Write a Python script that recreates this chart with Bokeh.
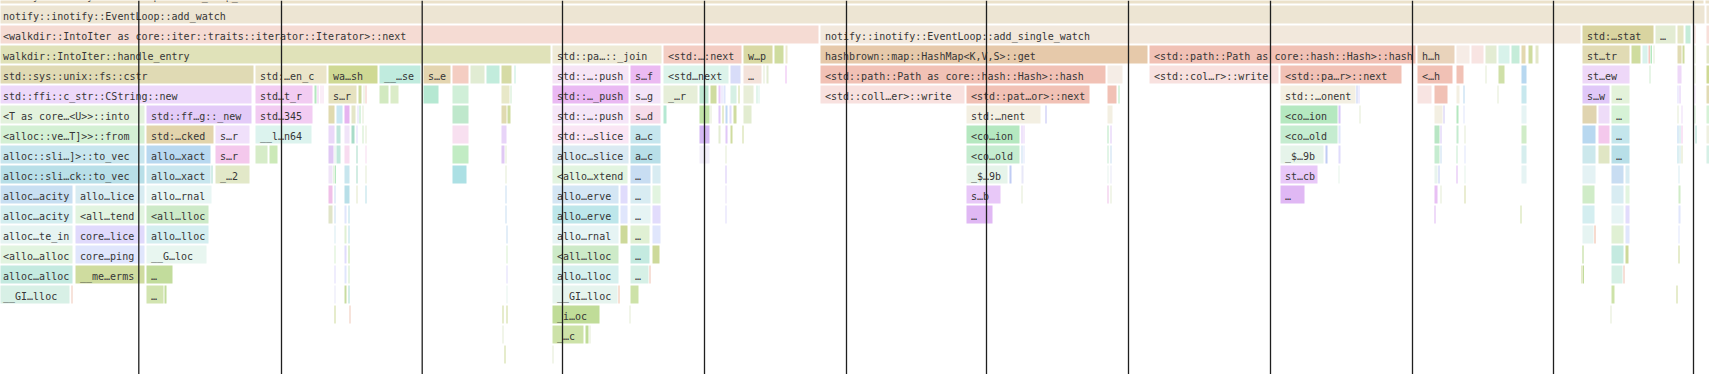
from bokeh.plotting import figure
from bokeh.models import Range1d, ColumnDataSource
from bokeh.core.properties import value
from bokeh.embed import file_html
from bokeh.resources import INLINE

# ---------------- data: flame graph frames, in samples (view spans 0..1709) ----------------
TOTAL_SAMPLES = 1709

ROW_00 = [(-2, 1703, "notify::inotify::EventLoop::event_loop_thread"), (1705, 1709, "")]
FILL_00 = ["#ebe1ca", "#ebe1ca"]

ROW_01 = [(-2, 1704, "notify::inotify::EventLoop::add_watch"), (1706, 1709, "")]
FILL_01 = ["#ede5d3", "#efe6d6"]

ROW_02 = [(-2, 818, "<walkdir::IntoIter as core::iter::traits::iterator::Iterator>::next"),
          (820, 1580, "notify::inotify::EventLoop::add_single_watch"),
          (1582, 1653, "std:…stat"), (1655, 1675, "…"), (1677, 1683, ""), (1685, 1690, ""),
          (1694, 1695, ""), (1706, 1709, "")]
FILL_02 = ["#f5dbd3", "#f2e8dc", "#d9d4a0", "#e3ecd3", "#e6e6c4", "#c5ecd9", "#f6d8d0", "#f8e0da"]

ROW_03 = [(-2, 550, "walkdir::IntoIter::handle_entry"), (552, 661, "std::pa…::_join"),
          (663, 741, "<std:…:next"), (743, 772, "w…p"), (774, 783, ""), (785, 787, ""),
          (820, 1147, "hashbrown::map::HashMap<K,V,S>::get"),
          (1149, 1415, "<std::path::Path as core::hash::Hash>::hash"),
          (1417, 1454, "h…h"), (1456, 1469, ""), (1471, 1483, ""), (1485, 1496, ""),
          (1498, 1509, ""), (1511, 1519, ""), (1521, 1525, ""), (1528, 1532, ""), (1535, 1538, ""),
          (1582, 1629, "st…tr"), (1631, 1640, ""), (1642, 1647, ""), (1648, 1649.5, ""),
          (1650, 1651.5, ""), (1653, 1654, ""), (1677, 1681, ""), (1682, 1684, ""),
          (1694, 1695, ""), (1706, 1709, "")]
FILL_03 = ["#e0e2b9", "#eeead6", "#f3cdc3", "#d9d9a4", "#cfdc9f", "#ece9cf",
           "#e6c9aa", "#f1c1b5", "#e9d3bb", "#f6ece6", "#f8e4e2", "#e3ecd3",
           "#d8f2ea", "#c5ecd9", "#e3d8b0", "#cfdc9f", "#e3e7c7",
           "#e1dbb4", "#cfdc9f", "#d8f2ec", "#f4c8c0", "#b5e8c0", "#e3ecd3",
           "#e1dbb4", "#cfdc9f", "#e3ecd3", "#e3e7c7"]

ROW_04 = [(-2, 253, "std::sys::unix::fs::cstr"), (255, 326, "std:…en_c"), (328, 377, "wa…sh"),
          (379, 420, "__…se"), (423, 450, "s…e"), (452, 468, ""), (470, 484, ""), (486, 499, ""),
          (501, 511, ""), (514, 515, ""), (552, 628, "std::…:push"), (630, 660, "s…f"),
          (663, 728, "<std…next"), (730, 740, ""), (743, 761, "…"), (763, 764, ""), (766, 768, ""),
          (785, 786, ""), (820, 1105, "<std::path::Path as core::hash::Hash>::hash"),
          (1107, 1122, ""), (1149, 1278, "<std::col…r>::write"), (1280, 1401, "<std::pa…r>::next"),
          (1417, 1452, "<…h"), (1456, 1463, ""), (1485, 1486, ""), (1498, 1504, ""), (1521, 1526, ""),
          (1582, 1629, "st…ew"), (1649, 1650, ""), (1677, 1681, ""), (1694, 1695, ""), (1706, 1709, "")]
FILL_04 = ["#e0dab4", "#ebe5c9", "#cfd994", "#c0ebde", "#e4d5b0", "#f4cdc2", "#e1ecd3", "#c2ecdc",
           "#d6dba5", "#c2ecdc", "#f6e5f6", "#ebbaf2", "#dcf3ea", "#d8dcf8", "#f3e2da", "#e3ecd3",
           "#e3ecd3", "#ebbaf2", "#f1c1b5", "#f5ede6", "#f8e1df", "#f1c1b5", "#f1c1b5", "#f1c1b5",
           "#e3ecd3", "#cfe0a8", "#b8d8f0", "#eed8f8", "#d0ecd0", "#eed8f8", "#e3ecd3", "#cfd994"]

ROW_05 = [(-2, 251, "std::ffi::c_str::CString::new"), (255, 312, "std…t_r"), (314, 316, ""),
          (317, 318, ""), (320, 321, ""), (322, 323, ""), (328, 356, "s…r"), (358, 361, ""),
          (363, 364, ""), (365, 366, ""), (379, 388, ""), (390, 398, ""), (423, 438, ""),
          (452, 468, ""), (501, 509, ""), (510, 511, ""), (552, 628, "std::…_push"), (630, 660, "s…g"),
          (663, 697, "_…r"), (699, 708, ""), (710, 716, ""), (718, 720, ""), (721, 722, ""),
          (723, 725, ""), (730, 736, ""), (738, 739, ""), (743, 753, ""), (756, 757, ""), (758, 759, ""),
          (820, 964, "<std::coll…er>::write"), (966, 1089, "<std::pat…or>::next"),
          (1107, 1116, ""), (1118, 1119, ""), (1280, 1355, "std::…onent"), (1356, 1357, ""),
          (1358, 1359, ""), (1417, 1431, ""), (1434, 1447, ""), (1456, 1459, ""), (1463, 1464, ""),
          (1497, 1498, ""), (1521, 1526, ""), (1582, 1609, "s…w"), (1611, 1629, "…"),
          (1677, 1678, ""), (1679, 1680, ""), (1694, 1695, ""), (1706, 1709, "")]
FILL_05 = ["#edd9fa", "#f2ccf2", "#b5e8c0", "#f2ccf2", "#f6dcf0", "#f6dcf0", "#e6e2c0", "#cfdc9f",
           "#e3ecd3", "#f4c8c0", "#d2e9c0", "#dbecc8", "#b5e8d2", "#d0efd8", "#e8e8c8", "#d0ecd0",
           "#eab9f3", "#f3e4f7", "#e6eed8", "#bfe8d3", "#cfdca0", "#e8c8f8", "#e0dcfc", "#e0e6fc",
           "#d6f0e4", "#cfdca0", "#e8eed8", "#c5ecd9", "#d8f2ea",
           "#f8e1df", "#f1c1b5", "#f1c1b5", "#b5e8c0", "#f3efe2", "#c0ccf4", "#e0dcfc",
           "#f8e4e2", "#f1c1b5", "#f3efe2", "#b8d8f0", "#e3ecd3", "#c8e8ee", "#e0c8f8", "#e3f2da",
           "#e0dcfc", "#e0c8f8", "#f0e4f8", "#e1dbb4"]

ROW_06 = [(-2, 144, "<T as core…<U>>::into"), (146, 251, "std::ff…g::_new"), (255, 312, "std…345"),
          (328, 334, ""), (336, 342, ""), (344, 349, ""), (351, 355, ""), (357, 358, ""), (359, 360, ""),
          (362, 363, ""), (452, 468, ""), (501, 506, ""), (507, 510, ""), (552, 628, "std::…:push"),
          (630, 660, "s…d"), (663, 666, ""), (699, 709, ""), (710, 711, ""), (718, 720, ""),
          (722, 723, ""), (725, 727, ""), (729, 731, ""), (733, 736, ""), (743, 751, ""),
          (966, 1040, "std:…nent"), (1045, 1046, ""), (1107, 1112, ""), (1280, 1337, "<co…ion"),
          (1338, 1340, ""), (1359, 1360, ""), (1434, 1442, ""), (1443, 1444, ""), (1456, 1458, ""),
          (1463, 1464, ""), (1521, 1526, ""), (1582, 1596, ""), (1598, 1609, ""), (1611, 1629, "…"),
          (1677, 1678, ""), (1681, 1682, ""), (1694, 1695, ""), (1706, 1709, "")]
FILL_06 = ["#e3f2dd", "#e3cbf8", "#f2ccf2", "#e0dab0", "#c8e6f2", "#e6b4f0", "#e4e6c8", "#e0dcfc",
           "#b5e8c0", "#e3ecd3", "#bfe8cc", "#e0dab0", "#cfdc9f", "#f5e6f8", "#f6dcea", "#b5e8d2",
           "#c2e4a8", "#e3ecd3", "#e0c8f8", "#cfdca0", "#c0d8f4", "#e0dcfc", "#cfdca0", "#e2ecd0",
           "#f3efe2", "#c0c0f4", "#f3efe2", "#b5e8c0", "#d8c8f8", "#e3ecd3", "#f3efe2", "#d0c8f4",
           "#b5e8c0", "#e0e6fc", "#e6f4f4", "#e0d4b0", "#eedcf8", "#d6f2d6", "#e3ecd3", "#eedcf8",
           "#d0ecd0", "#d6f2d6"]

ROW_07 = [(-2, 144, "<alloc::ve…T]>>::from"), (146, 213, "std:…cked"), (215, 249, "s…r"),
          (255, 311, "__l…n64"), (328, 334, ""), (336, 340, ""), (344, 349, ""), (351, 354, ""),
          (356, 357, ""), (362, 363, ""), (365, 366, ""), (452, 468, ""), (501, 506, ""),
          (552, 628, "std::…slice"), (630, 660, "a…c"), (699, 709, ""), (718, 720, ""), (725, 727, ""),
          (730, 732, ""), (742, 743, ""), (966, 1019, "<co…ion"), (1021, 1022, ""), (1023, 1024, ""),
          (1107, 1108, ""), (1110, 1111, ""), (1280, 1337, "<co…old"), (1338, 1340, ""),
          (1434, 1439, ""), (1440, 1441, ""), (1456, 1458, ""), (1464, 1465, ""), (1521, 1526, ""),
          (1582, 1595, ""), (1598, 1609, ""), (1611, 1629, "…"), (1677, 1678, ""), (1679, 1680, ""),
          (1681, 1682, ""), (1695, 1696, ""), (1706, 1709, "")]
FILL_07 = ["#d4f0d4", "#e2d4ac", "#f0e0fa", "#dcf3ee", "#ead8f8", "#bfe6dc", "#f0e4f8", "#a8dcc8",
           "#e0dcfc", "#d0ecc8", "#e3ecd3", "#f8e0f0", "#e8d4f8", "#fae6f4", "#c6e6ee", "#d4b8f4",
           "#e3ecd3", "#e0c8f8", "#cfdca0", "#cfdca0", "#b5e8c0", "#e0c8f8", "#e8d4f8", "#b5e8c0",
           "#e0c8f8", "#c5ecd0", "#e0e6fc", "#b8e6c4", "#d8c8f8", "#c5ecd0", "#e3ecd3", "#d0ecc8",
           "#b8d8f0", "#f4c8ec", "#c4e6ec", "#b8d8f0", "#c4e6ec", "#f4c8ec", "#a8dcd0", "#eef0e0"]

ROW_08 = [(-2, 144, "alloc::sli…]>::to_vec"), (146, 210, "allo…xact"), (215, 249, "s…r"),
          (255, 267, ""), (269, 277, ""), (328, 333, ""), (334, 335, ""), (336, 340, ""),
          (344, 349, ""), (356, 357, ""), (365, 366, ""), (452, 468, ""), (501, 504, ""),
          (505, 506, ""), (552, 628, "alloc…slice"), (630, 660, "a…c"), (699, 709, ""),
          (725, 726, ""), (966, 1019, "<co…old"), (1021, 1022, ""), (1023, 1024, ""), (1107, 1108, ""),
          (1110, 1111, ""), (1280, 1323, "_$…9b"), (1325, 1327, ""), (1338, 1340, ""),
          (1434, 1439, ""), (1440, 1441, ""), (1456, 1457, ""), (1464, 1465, ""), (1521, 1526, ""),
          (1582, 1595, ""), (1598, 1609, ""), (1611, 1629, "…"), (1677, 1678, ""), (1679, 1680, ""),
          (1681, 1682, ""), (1706, 1709, "")]
FILL_08 = ["#c8e6ee", "#b8d8f0", "#f4c8ec", "#d6ecc8", "#cce9b8", "#e0c8f4", "#e0f0e8", "#c0e8dc",
           "#f8dcf0", "#a8dcc8", "#f8dcf0", "#c2ecc4", "#e0c8f4", "#e3ecd3", "#dbeaf2", "#b8dfe8",
           "#f2eefa", "#e3ecd3", "#c5ecd0", "#c8ddf2", "#e0e6fc", "#c5ecd0", "#c8ddf2", "#e6f4ea",
           "#c0ccf4", "#e0dcfc", "#c5ecd0", "#c8ddf2", "#c5ecd0", "#e0e6fc", "#d6eeee", "#cce8ec",
           "#e0e6c4", "#b8dfe8", "#b8dfe8", "#cce8ec", "#e0e6c4", "#d6f0e6"]

ROW_09 = [(-2, 144, "alloc::sli…ck::to_vec"), (146, 210, "allo…xact"), (211, 212, ""), (215, 249, "_…2"),
          (328, 332, ""), (333, 334, ""), (334.5, 335.5, ""), (344, 349, ""), (356, 357, ""),
          (365, 366, ""), (452, 466, ""), (505, 506, ""), (552, 627, "<allo…xtend"), (630, 650, "…"),
          (652, 660, ""), (725, 726, ""), (966, 1007, "_$…9b"), (1009, 1011, ""), (1021, 1023, ""),
          (1107, 1108, ""), (1110, 1111, ""), (1280, 1317, "st…cb"), (1338, 1339, ""),
          (1434, 1437, ""), (1438, 1439, ""), (1456, 1457, ""), (1464, 1465, ""), (1521, 1526, ""),
          (1582, 1595, ""), (1611, 1623, ""), (1625, 1629, ""), (1678, 1679, "")]
FILL_09 = ["#b8dfe8", "#c8e6ee", "#a8dcd0", "#e2e8c8", "#f0e4f8", "#d0ecc8", "#b5e8c0", "#c8e6ee",
           "#a8dcc8", "#e3ecd3", "#ace0e4", "#e3ecd3", "#e2f4e0", "#c8ddf2", "#d8ecf2", "#d8c8f8",
           "#e6f4ea", "#c0ccf4", "#e8e8f8", "#e8f4ee", "#e8e8f8", "#e8c8f8", "#e6f4ea", "#e8f4ee",
           "#c0ccf4", "#e0b8f4", "#e6f4ea", "#e6f4f4", "#e4f2f4", "#c8ddf2", "#d8ecf2", "#d8ecf2"]

ROW_10 = [(-2, 72, "alloc…acity"), (75, 144, "allo…lice"), (146, 211, "allo…rnal"), (328, 332, ""),
          (334, 335, ""), (344, 349, ""), (356, 357, ""), (365, 366, ""), (505, 506, ""),
          (552, 618, "allo…erve"), (620, 627, ""), (630, 650, "…"), (652, 660, ""), (725, 726, ""),
          (966, 1000, "s…b"), (1021, 1022, ""), (1107, 1108, ""), (1110, 1111, ""),
          (1280, 1304, "…"), (1434, 1437, ""), (1440, 1441, ""), (1464, 1465, ""),
          (1582, 1594, ""), (1611, 1623, ""), (1625, 1629, ""), (1678, 1680, "")]
FILL_10 = ["#c8dff2", "#d8ecf2", "#e8f6f4", "#f0c0e8", "#c8ddf2", "#b8dfe8", "#e2e8c8", "#b8dfe8",
           "#c8ddf2", "#d4e6f4", "#e0dcfc", "#d8ecf2", "#e2f4e0", "#e8e0f8", "#e8c8f8", "#e3ecd3",
           "#f0c0e8", "#e3ecd3", "#e0b8f4", "#e8c0f4", "#e3ecd3", "#d6dba5", "#d0ecc8", "#d8ecf2",
           "#e2f4e0", "#d0ecc8"]

ROW_11 = [(-2, 72, "alloc…acity"), (75, 144, "<all…tend"), (146, 208, "<all…lloc"), (328, 332, ""),
          (334, 335, ""), (344, 346, ""), (348, 349, ""), (505, 506, ""), (552, 618, "allo…erve"),
          (620, 627, ""), (630, 650, "…"), (652, 660, ""), (725, 726, ""), (966, 992, "…"),
          (1434, 1435, ""), (1520, 1521, ""), (1582, 1594, ""), (1611, 1623, ""), (1625, 1629, ""),
          (1678, 1680, "")]
FILL_11 = ["#d4eef0", "#e2f4e0", "#cdeac8", "#e0e4c8", "#c8ddf2", "#e0e6fc", "#b8dfe8", "#c8ddf2",
           "#bde6ea", "#e0e6fc", "#e6f4f4", "#e2dcfc", "#e0dcfc", "#e0b8f4", "#e0b8f4", "#cfe0a8",
           "#d4eef0", "#e6f4f4", "#e2dcfc", "#e0e6fc"]

ROW_12 = [(-2, 72, "alloc…te_in"), (75, 144, "core…lice"), (146, 208, "allo…lloc"), (334, 335, ""),
          (344, 346, ""), (348, 349, ""), (506, 507, ""), (552, 618, "allo…rnal"), (620, 627, ""),
          (630, 649, "…"), (652, 660, ""), (1582, 1593, ""), (1594, 1595, ""), (1611, 1623, ""),
          (1625, 1629, ""), (1678, 1679, "")]
FILL_12 = ["#e6f4f2", "#e0dafc", "#d4eef0", "#d8ecf2", "#e0f0d4", "#b8dfe8", "#c8ddf2", "#e6f4f4",
           "#cdd99a", "#e0f0d4", "#e0e6fc", "#e6f4f2", "#f0b8a0", "#e0f0d4", "#e0e6fc", "#e0e6fc"]

ROW_13 = [(-2, 72, "<allo…alloc"), (75, 144, "core…ping"), (146, 206, "__G…loc"), (334, 335, ""),
          (344, 346, ""), (348, 349, ""), (506, 507, ""), (552, 618, "<all…lloc"), (630, 649, "…"),
          (652, 659, ""), (1582, 1583, ""), (1611, 1623, ""), (1625, 1628, ""), (1678, 1679, "")]
FILL_13 = ["#e2f4e0", "#e0e6fc", "#e8f6f0", "#d8f0d0", "#e0dcfc", "#c2e4a8", "#d8f0d0", "#cdeac8",
           "#c4eae0", "#cdd99a", "#b8d890", "#c4eae0", "#cdd99a", "#cdd99a"]

ROW_14 = [(-2, 72, "alloc…alloc"), (75, 144, "__me…erms"), (146, 172, "…"), (334, 335, ""),
          (344, 346, ""), (348, 349, ""), (506, 507, ""), (552, 618, "allo…lloc"), (630, 648, "…"),
          (649, 650, ""), (1581, 1582, ""), (1582.5, 1583.5, ""), (1611, 1622, ""), (1623, 1624, "")]
FILL_14 = ["#c4eae0", "#cfdc9f", "#c2dc9c", "#e0dcfc", "#e0e6fc", "#d0ecc8", "#e0dcfc", "#d6f0ee",
           "#d6f0e6", "#f0c0b0", "#cdd99a", "#c2dc9c", "#d6f0e6", "#f0c0b0"]

ROW_15 = [(-2, 69, "__GI…lloc"), (71, 72, ""), (146, 163, "…"), (164, 166, ""), (334, 335, ""),
          (344, 346, ""), (348, 349, ""), (506, 507, ""), (552, 617, "__GI…lloc"), (618, 619, ""),
          (630, 638, ""), (1611, 1614, ""), (1676, 1677, "")]
FILL_15 = ["#d8f0e6", "#f0c8b8", "#d2e4b0", "#c2dc9c", "#e8e8f8", "#c8dca0", "#a8dcd0", "#e6f4ee",
           "#e6f4ee", "#f0c0a8", "#cde2a8", "#cde2a8", "#cdd99a"]

ROW_16 = [(334, 335, ""), (349, 350, ""), (502, 503, ""), (506, 507, ""), (552, 599, "_i…oc"),
          (629, 630, ""), (1610, 1611, "")]
FILL_16 = ["#cdd99a", "#f0c8b8", "#cdd99a", "#cdd99a", "#c0dc98", "#e3ecd3", "#e3ecd3"]

ROW_17 = [(502, 503, ""), (552, 583, "_…c"), (585, 588, ""), (589, 590, "")]
FILL_17 = ["#e3ecd3", "#cde2a8", "#c0dc98", "#e3ecd3"]

ROW_18 = [(504, 505, ""), (552, 553, "")]
FILL_18 = ["#cdd99a", "#e3ecd3"]

ROWS = [ROW_00, ROW_01, ROW_02, ROW_03, ROW_04, ROW_05, ROW_06, ROW_07, ROW_08, ROW_09,
        ROW_10, ROW_11, ROW_12, ROW_13, ROW_14, ROW_15, ROW_16, ROW_17, ROW_18]
FILLS = [FILL_00, FILL_01, FILL_02, FILL_03, FILL_04, FILL_05, FILL_06, FILL_07, FILL_08, FILL_09,
         FILL_10, FILL_11, FILL_12, FILL_13, FILL_14, FILL_15, FILL_16, FILL_17, FILL_18]

# sample positions of the vertical marker lines
MARKERS = [138.3, 281, 421.7, 562, 704, 846, 986, 1128, 1270, 1412, 1553, 1693]

# ---------------- layout / style ----------------
ROW_PITCH = 20
ROW_H = 18
FIRST_TOP = -15
TEXT_MID = 11
VIEW_H = 374

left, right, top, bottom, colors = [], [], [], [], []
tx, ty, tl = [], [], []
for depth, (row, fills) in enumerate(zip(ROWS, FILLS)):
    row_top = FIRST_TOP + ROW_PITCH * depth
    for i, (s, e, label) in enumerate(row):
        left.append(s)
        right.append(e)
        top.append(row_top)
        bottom.append(row_top + ROW_H)
        colors.append(fills[i] if i < len(fills) else "#e3ecd3")
        if label:
            tx.append(s)
            ty.append(row_top + TEXT_MID)
            tl.append(label)

p = figure(width=1709, height=374, output_backend="svg", toolbar_location=None,
           x_range=Range1d(0, TOTAL_SAMPLES), y_range=Range1d(VIEW_H, 0),
           min_border=0, min_border_left=0, min_border_right=0, min_border_top=0, min_border_bottom=0)
p.axis.visible = False
p.grid.visible = False
p.outline_line_color = None
p.background_fill_color = "white"
p.border_fill_color = "white"

src = ColumnDataSource(dict(left=left, right=right, top=top, bottom=bottom, color=colors))
p.quad(left="left", right="right", top="top", bottom="bottom", fill_color="color",
       line_color=None, source=src)

tsrc = ColumnDataSource(dict(x=tx, y=ty, text=tl))
p.text(x="x", y="y", text="text", source=tsrc, x_offset=4.5,
       text_font=value("DejaVu Sans Mono"), text_font_size="10px",
       text_color="#363636", text_baseline="middle", text_align="left")

p.segment(x0=MARKERS, y0=[0] * len(MARKERS), x1=MARKERS, y1=[VIEW_H] * len(MARKERS),
          line_color="#1e1e1e", line_width=1.3)

open("out.html", "w").write(file_html(p, INLINE))
